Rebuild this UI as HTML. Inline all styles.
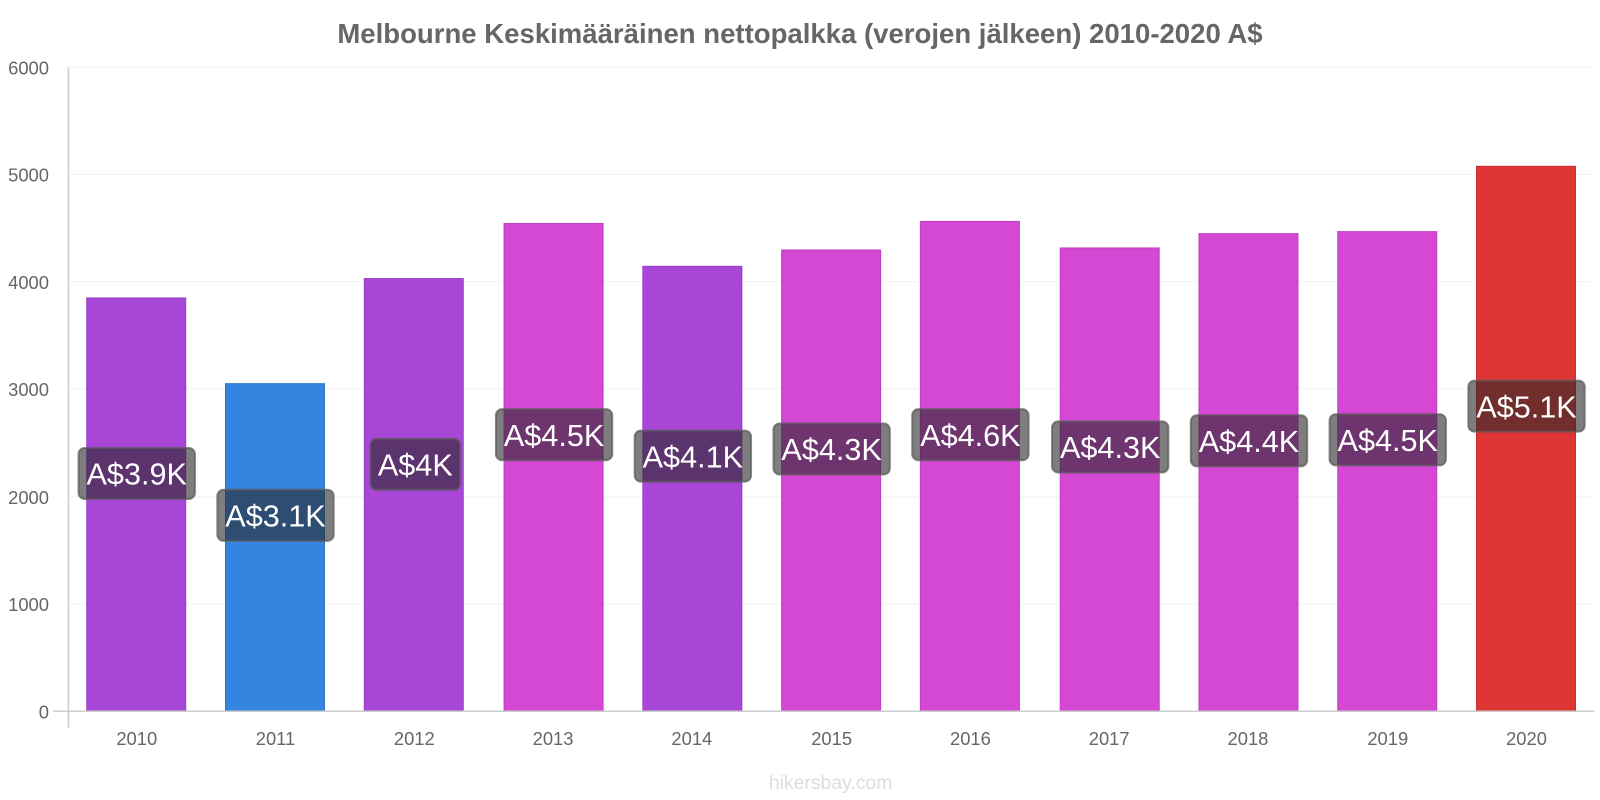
<!DOCTYPE html>
<html><head><meta charset="utf-8"><style>body{margin:0;background:#fff}svg{display:block}</style></head><body>
<svg width="1600" height="800" viewBox="0 0 1568 784" xmlns="http://www.w3.org/2000/svg" font-family="Liberation Sans, sans-serif">
<text x="784" y="42" text-anchor="middle" font-size="27" font-weight="bold" fill="#666">Melbourne Keskimääräinen nettopalkka (verojen jälkeen) 2010-2020 A$</text>
<g stroke="#f2f2f2" stroke-width="1">
<line x1="67" x2="1560" y1="66" y2="66"/><line x1="67" x2="1560" y1="171" y2="171"/><line x1="67" x2="1560" y1="276" y2="276"/><line x1="67" x2="1560" y1="381" y2="381"/><line x1="67" x2="1560" y1="487" y2="487"/><line x1="67" x2="1560" y1="592" y2="592"/>
</g>
<g font-size="18" fill="#666" text-anchor="end">
<text x="48" y="73">6000</text><text x="48" y="178">5000</text><text x="48" y="283">4000</text><text x="48" y="388">3000</text><text x="48" y="494">2000</text><text x="48" y="599">1000</text><text x="48" y="704">0</text>
</g>
<g stroke-width="1">
<rect x="85" y="292" width="97" height="405" fill="#a846d8" stroke="#9a3fc8"/>
<rect x="221" y="376" width="97" height="321" fill="#3584e0" stroke="#2d74c8"/>
<rect x="357" y="273" width="97" height="424" fill="#a846d8" stroke="#9a3fc8"/>
<rect x="494" y="219" width="97" height="478" fill="#d548d4" stroke="#c23cc0"/>
<rect x="630" y="261" width="97" height="436" fill="#a846d8" stroke="#9a3fc8"/>
<rect x="766" y="245" width="97" height="452" fill="#d548d4" stroke="#c23cc0"/>
<rect x="902" y="217" width="97" height="480" fill="#d548d4" stroke="#c23cc0"/>
<rect x="1039" y="243" width="97" height="454" fill="#d548d4" stroke="#c23cc0"/>
<rect x="1175" y="229" width="97" height="468" fill="#d548d4" stroke="#c23cc0"/>
<rect x="1311" y="227" width="97" height="470" fill="#d548d4" stroke="#c23cc0"/>
<rect x="1447" y="163" width="97" height="534" fill="#e03535" stroke="#c82c2c"/>
</g>
<line x1="67" y1="66" x2="67" y2="713" stroke="#ccc" stroke-width="1.5"/>
<line x1="52" y1="697" x2="1562" y2="697" stroke="#ccc" stroke-width="1.5"/>
<g font-size="18" fill="#666" text-anchor="middle">
<text x="134" y="730">2010</text><text x="270" y="730">2011</text><text x="406" y="730">2012</text><text x="542" y="730">2013</text><text x="678" y="730">2014</text><text x="815" y="730">2015</text><text x="951" y="730">2016</text><text x="1087" y="730">2017</text><text x="1223" y="730">2018</text><text x="1360" y="730">2019</text><text x="1496" y="730">2020</text>
</g>
<g fill="rgba(40,40,40,0.6)" stroke="rgba(90,90,90,0.7)" stroke-width="2">
<rect x="77" y="439" width="114" height="50" rx="6"/>
<rect x="213" y="480" width="114" height="50" rx="6"/>
<rect x="363" y="430" width="88" height="50" rx="6"/>
<rect x="486" y="401" width="114" height="50" rx="6"/>
<rect x="622" y="422" width="114" height="50" rx="6"/>
<rect x="758" y="415" width="114" height="50" rx="6"/>
<rect x="894" y="401" width="114" height="50" rx="6"/>
<rect x="1031" y="413" width="114" height="50" rx="6"/>
<rect x="1167" y="407" width="114" height="50" rx="6"/>
<rect x="1303" y="406" width="114" height="50" rx="6"/>
<rect x="1439" y="373" width="114" height="50" rx="6"/>
</g>
<g font-size="30" fill="#fff" text-anchor="middle">
<text x="134" y="475">A$3.9K</text><text x="270" y="516">A$3.1K</text><text x="407" y="466">A$4K</text><text x="543" y="437">A$4.5K</text><text x="679" y="458">A$4.1K</text><text x="815" y="451">A$4.3K</text><text x="951" y="437">A$4.6K</text><text x="1088" y="449">A$4.3K</text><text x="1224" y="443">A$4.4K</text><text x="1360" y="442">A$4.5K</text><text x="1496" y="409">A$5.1K</text>
</g>
<text x="814" y="773" text-anchor="middle" font-size="19" fill="#ddd">hikersbay.com</text>
</svg>
</body></html>
